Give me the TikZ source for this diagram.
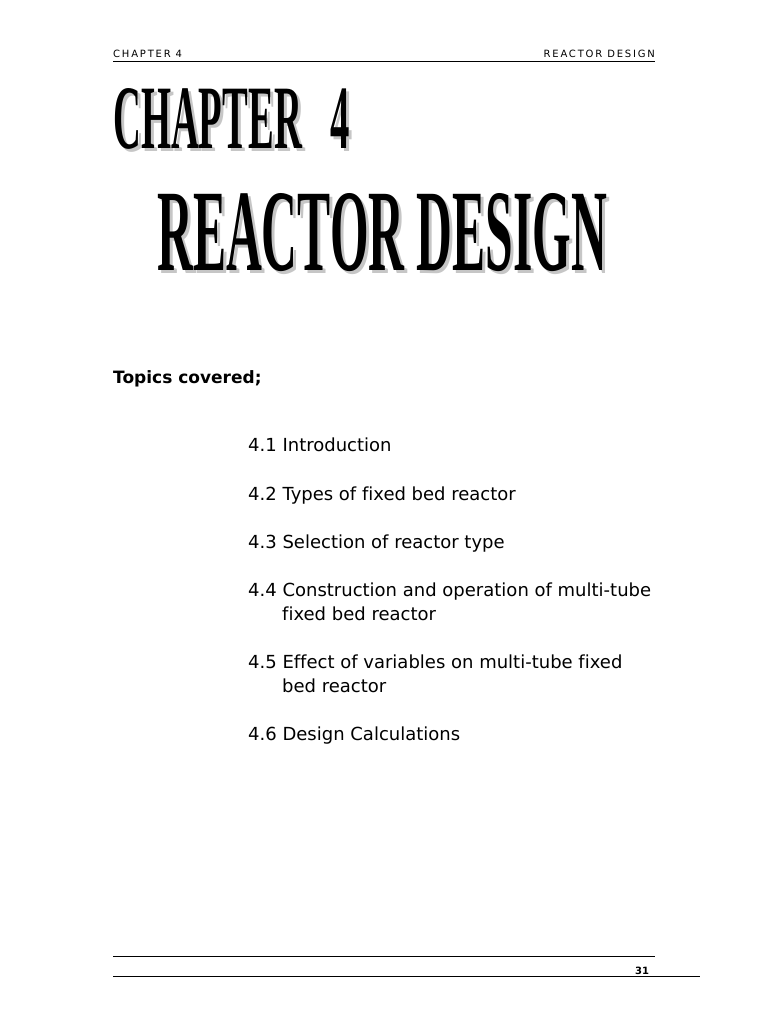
\documentclass[tikz,border=0pt]{standalone}
\usepackage{fontspec}
\setmainfont[Ligatures=NoCommon]{DejaVu Sans}
\newfontfamily\titlefont{Liberation Serif}
\tikzset{x=1pt,y=-1pt,
 body/.style={anchor=base west,inner sep=0pt,font=\fontsize{18}{21}\selectfont},
 hdr/.style={anchor=base west,inner sep=0pt,font=\fontsize{10}{11}\selectfont},
 rule/.style={line width=0.6pt}}
\newcommand{\wordart}[3]{\resizebox{#1pt}{#2pt}{\titlefont\bfseries #3}}
\begin{document}
\begin{tikzpicture}
\useasboundingbox[fill=white] (0,0) rectangle (768,1024);
\node[hdr] (h1) at (113,58) {\addfontfeature{LetterSpace=18}CHAPTER 4};
\node[hdr,anchor=base east] (h2) at (655,58) {\addfontfeature{LetterSpace=18}REACTOR DESIGN};
\draw[rule] (113,61) -- (655,61);
% titles with shadow
\node[anchor=north west,inner sep=0pt,text=gray!45] (t1s) at (116,91) {\wordart{237}{60}{CHAPTER\ \ \ 4}};
\node[anchor=north west,inner sep=0pt] (t1) at (113,88) {\wordart{237}{60}{CHAPTER\ \ \ 4}};
\node[anchor=north west,inner sep=0pt,text=gray!45] (t2s) at (160,196) {\wordart{450}{77}{REACTOR DESIGN}};
\node[anchor=north west,inner sep=0pt] (t2) at (157,193) {\wordart{450}{77}{REACTOR DESIGN}};
\node[body,font=\fontsize{17}{20}\selectfont\bfseries] (tc) at (113,383) {Topics covered;};
\node[body] (a) at (248,451) {4.1 Introduction};
\node[body] (b) at (248,500) {4.2 Types of fixed bed reactor};
\node[body] (c) at (248,548) {4.3 Selection of reactor type};
\node[body] (d) at (248,596) {4.4 Construction and operation of multi-tube};
\node[body] (d2) at (282,620) {fixed bed reactor};
\node[body] (e) at (248,668) {4.5 Effect of variables on multi-tube fixed};
\node[body] (e2) at (282,692) {bed reactor};
\node[body] (f) at (248,740) {4.6 Design Calculations};
\draw[rule] (113,956) -- (655,956);
\draw[rule] (113,976) -- (700,976);
\node[hdr,font=\fontsize{10}{11}\selectfont\bfseries,anchor=base] (pg) at (642,974) {31};
\end{tikzpicture}
\end{document}
